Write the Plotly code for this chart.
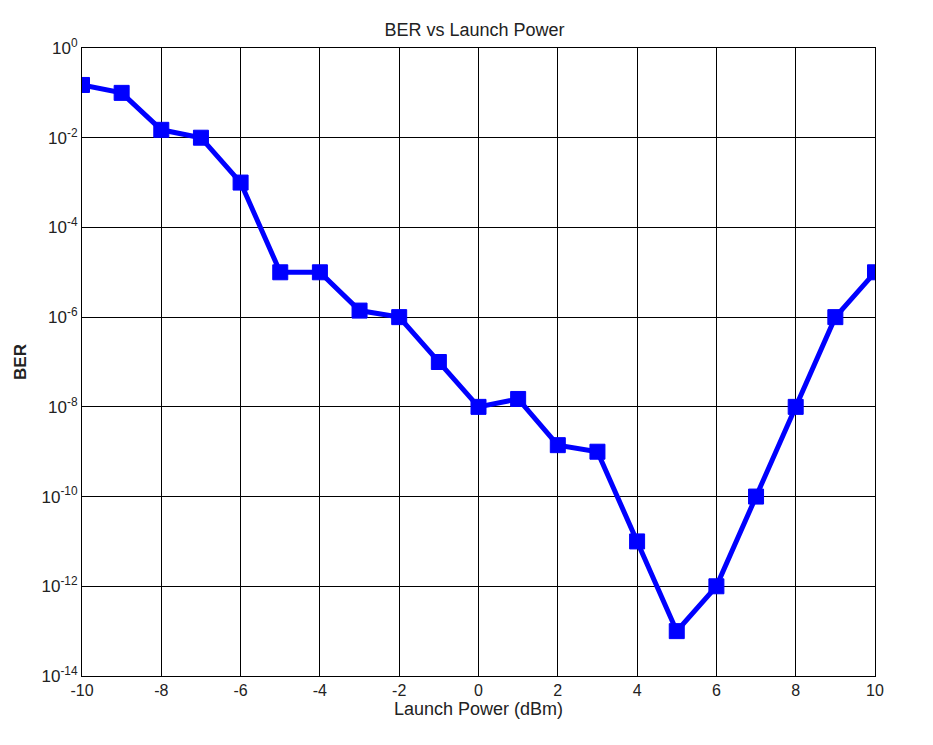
import plotly.graph_objects as go

launch_power = [-10, -9, -8, -7, -6, -5, -4, -3, -2, -1, 0, 1, 2, 3, 4, 5, 6, 7, 8, 9, 10]
ber = [1.5e-1, 1.0e-1, 1.5e-2, 1.0e-2, 1.0e-3, 1.0e-5, 1.0e-5, 1.4e-6, 1.0e-6, 1.0e-7,
       1.0e-8, 1.5e-8, 1.4e-9, 1.0e-9, 1.0e-11, 1.0e-13, 1.0e-12, 1.0e-10, 1.0e-8, 1.0e-6, 1.0e-5]

x_ticks = [-10, -8, -6, -4, -2, 0, 2, 4, 6, 8, 10]
x_ticktext = [str(v) for v in x_ticks]
y_exps = [0, -2, -4, -6, -8, -10, -12, -14]
y_ticks = [10.0 ** e for e in y_exps]
y_ticktext = [f"10<sup>{e}</sup>" for e in y_exps]

FONT = "Liberation Sans, Arial"
TXT = "#222"
fig = go.Figure()
fig.add_trace(go.Scatter(
    x=launch_power, y=ber, mode="lines+markers",
    line=dict(color="#0000ff", width=5),
    marker=dict(symbol="square", size=15, color="#0000ff", line=dict(color="#0000ff", width=1)),
    showlegend=False,
))

axis_common = dict(showline=True, linecolor="black", linewidth=1, mirror=True,
                   showgrid=True, gridcolor="black", gridwidth=1,
                   ticks="inside", ticklen=3, tickcolor="black",
                   zeroline=False)

fig.update_layout(
    width=933, height=745,
    paper_bgcolor="white", plot_bgcolor="white",
    margin=dict(l=71, r=66, t=40, b=77),
    title=dict(text="BER vs Launch Power", x=0.5, xanchor="center", y=0.979, yanchor="top",
               font=dict(family=FONT, size=18, color=TXT)),
    xaxis=dict(range=[-10, 10], tickvals=x_ticks, ticktext=x_ticktext,
               tickfont=dict(family=FONT, size=16, color=TXT),
               title=dict(text="Launch Power (dBm)", standoff=4,
                          font=dict(family=FONT, size=18, color=TXT)), **axis_common),
    yaxis=dict(type="log", range=[-14, 0], tickvals=y_ticks, ticktext=y_ticktext,
               tickfont=dict(family=FONT, size=17, color=TXT),
               title=dict(text="<b>BER</b>", standoff=10,
                          font=dict(family=FONT, size=17, color=TXT)), **axis_common),
)

fig.write_html("out.html")
